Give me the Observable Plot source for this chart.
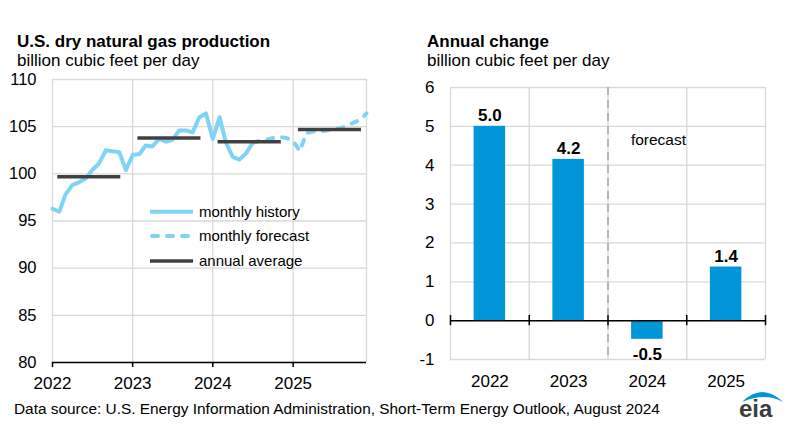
<!DOCTYPE html>
<html>
<head>
<meta charset="utf-8">
<script src="https://cdn.jsdelivr.net/npm/d3@7"></script>
<script src="https://cdn.jsdelivr.net/npm/@observablehq/plot@0.6"></script>
<style>
  html, body { margin: 0; padding: 0; background: #fff; }
  #wrap { position: relative; width: 793px; height: 437px; overflow: hidden; font-family: "Liberation Sans", Arial, sans-serif; }
  #left, #right, #overlay { position: absolute; top: 0; }
  #left { left: 0; }
  #right { left: 400px; }
  #overlay { left: 0; pointer-events: none; }
</style>
</head>
<body>
<div id="wrap">
  <div id="left"></div>
  <div id="right"></div>
  <svg id="overlay" width="793" height="437"></svg>
</div>
<script>
// ---------- data ----------
const years = [2022, 2023, 2024, 2025];
// monthly history Jan 2022 - Jul 2024 (Bcf/d)
const monthlyHistory = [
  96.3, 96.0, 97.8, 98.8, 99.1, 99.5, 100.4, 101.1, 102.5, 102.4, 102.3, 100.4,
  102.0, 102.1, 103.0, 102.9, 103.7, 103.4, 103.6, 104.6, 104.6, 104.4, 106.0, 106.4,
  103.7, 106.0, 103.3, 101.8, 101.5, 102.2, 103.3
];
// monthly forecast Jul 2024 - Dec 2025
const monthlyForecast = [
  103.3, 103.5, 103.6, 103.8, 103.9, 103.8,
  103.5, 102.4, 104.3, 104.5, 104.5, 104.6, 104.7, 104.8, 105.1, 105.4, 105.7, 106.4
];
const annualAverage = [99.7, 103.8, 103.4, 104.7];
const annualChange = [5.0, 4.15, -0.48, 1.38];
const changeLabels = ["5.0", "4.2", "-0.5", "1.4"];
const leftTicks = [80, 85, 90, 95, 100, 105, 110];
const rightTicks = [-1, 0, 1, 2, 3, 4, 5, 6];
const legendLabels = ["monthly history", "monthly forecast", "annual average"];

// ---------- derived tables ----------
const start = new Date(2022, 0, 1);
const monthAt = i => new Date(2022, i, 1);
const hist = monthlyHistory.map((v, i) => ({date: monthAt(i), value: v}));
const fcOffset = monthlyHistory.length - 1;
const fc = monthlyForecast.map((v, i) => ({date: monthAt(fcOffset + i), value: v}));
const avg = years.map((y, i) => ({year: y, value: annualAverage[i]}));
const chg = years.map((y, i) => ({year: y, value: annualChange[i], label: changeLabels[i]}));
const yearDates = years.map(y => new Date(y, 0, 1));
const endDate = monthAt(monthlyHistory.length - 1 + monthlyForecast.length - 1);

const FONT = "Liberation Sans, Arial, sans-serif";
const GRID = "#d9d9d9";
const LIGHT = "#7fd3f5";
const DARK = "#404040";
const BAR = "#0096d7";
const DASH = "6,9";

// ---------- left chart ----------
const left = Plot.plot({
  width: 400, height: 400,
  marginLeft: 52, marginRight: 34, marginTop: 79, marginBottom: 38,
  style: {background: "transparent", fontFamily: FONT, fontSize: "17px", color: "#000", overflow: "visible"},
  x: {type: "time", domain: [start, endDate]},
  y: {domain: [80, 110]},
  marks: [
    Plot.gridY(leftTicks, {stroke: GRID, strokeOpacity: 1, strokeWidth: 1.3}),
    Plot.gridX([...yearDates, endDate], {stroke: GRID, strokeOpacity: 1, strokeWidth: 1.3}),
    Plot.ruleY([80], {stroke: "#000", strokeWidth: 1.5}),
    Plot.axisY({ticks: leftTicks, tickSize: 0, tickPadding: 16, label: null, fontSize: 16.5}),
    Plot.axisX({ticks: yearDates, tickSize: 5, tickPadding: 9, tickFormat: d3.timeFormat("%Y"), label: null, stroke: "#000", strokeWidth: 1.5, fontSize: 17}),
    Plot.line(hist, {x: "date", y: "value", stroke: LIGHT, strokeWidth: 4, curve: "linear"}),
    Plot.line(fc, {x: "date", y: "value", stroke: LIGHT, strokeWidth: 4, strokeDasharray: DASH, strokeLinecap: "round"}),
    Plot.ruleY(avg, {y: "value", x1: d => new Date(d.year, 0, 25), x2: d => new Date(d.year, 10, 8), stroke: DARK, strokeWidth: 3.5})
  ]
});
document.getElementById("left").appendChild(left);

// ---------- right chart ----------
const bounds = [2021.5, 2022.5, 2023.5, 2024.5, 2025.5];
const right = Plot.plot({
  width: 393, height: 400,
  marginLeft: 50, marginRight: 28, marginTop: 87, marginBottom: 41,
  style: {background: "transparent", fontFamily: FONT, fontSize: "17px", color: "#000", overflow: "visible"},
  x: {domain: [2021.5, 2025.5]},
  y: {domain: [-1, 6]},
  marks: [
    Plot.gridY(rightTicks, {stroke: GRID, strokeOpacity: 1, strokeWidth: 1.3}),
    Plot.gridX(bounds, {stroke: GRID, strokeOpacity: 1, strokeWidth: 1.3}),
    Plot.ruleX([2023.5], {stroke: "#a6a6a6", strokeWidth: 1.5, strokeDasharray: "8,5"}),
    Plot.rectY(chg, {x1: d => d.year - 0.2, x2: d => d.year + 0.2, y1: 0, y2: "value", fill: BAR}),
    Plot.ruleY([0], {stroke: "#000", strokeWidth: 1.5}),
    Plot.ruleX(bounds, {y1: -0.13, y2: 0.13, stroke: "#000", strokeWidth: 1.5}),
    Plot.text(chg.filter(d => d.value >= 0), {x: "year", y: "value", text: "label", lineAnchor: "bottom", dy: -5, fontWeight: "bold", fontSize: 17, fill: "#000"}),
    Plot.text(chg.filter(d => d.value < 0), {x: "year", y: "value", text: "label", lineAnchor: "top", dy: 9, fontWeight: "bold", fontSize: 17, fill: "#000"}),
    Plot.text(["forecast"], {x: () => 2024, y: () => 4.64, text: d => d, textAnchor: "start", dx: -16.5, fontSize: 15.5, fill: "#000"}),
    Plot.axisY({ticks: rightTicks, tickSize: 0, tickPadding: 16, tickFormat: d => String(d), label: null, fontSize: 17}),
    Plot.axisX({ticks: years, tickSize: 0, tickPadding: 15, tickFormat: d => String(d), label: null, fontSize: 17})
  ]
});
document.getElementById("right").appendChild(right);

// ---------- titles, legend, footer, logo ----------
const ov = d3.select("#overlay").style("font-family", FONT);
const t = (x, y, s, size, weight) => ov.append("text").attr("x", x).attr("y", y).attr("font-size", size).attr("font-weight", weight || "normal").attr("fill", "#000").text(s);
t(17, 47, "U.S. dry natural gas production", 17, "bold");
t(17, 66, "billion cubic feet per day", 17);
t(427, 47, "Annual change", 17, "bold");
t(427, 66, "billion cubic feet per day", 17);

const legY = [211.7, 236, 261];
const legStyles = [
  {stroke: LIGHT, w: 4, dash: null},
  {stroke: LIGHT, w: 4, dash: DASH},
  {stroke: DARK, w: 3.5, dash: null}
];
legendLabels.forEach((lab, i) => {
  const ln = ov.append("line").attr("x1", i === 1 ? 152 : 150).attr("x2", i === 1 ? 191 : 193).attr("y1", legY[i]).attr("y2", legY[i])
    .attr("stroke", legStyles[i].stroke).attr("stroke-width", legStyles[i].w);
  if (legStyles[i].dash) ln.attr("stroke-dasharray", legStyles[i].dash).attr("stroke-linecap", "round");
  ov.append("text").attr("x", 199).attr("y", legY[i]).attr("dy", "0.35em").attr("font-size", 15).attr("fill", "#000").text(lab);
});

t(14, 414, "Data source: U.S. Energy Information Administration, Short-Term Energy Outlook, August 2024", 15.4);

// eia logo
ov.append("path").attr("d", "M742,402 Q762,382 783,402 Q765,392 742,402 Z").attr("fill", BAR);
ov.append("text").attr("x", 739).attr("y", 417).attr("font-size", 24).attr("font-weight", "bold").attr("fill", "#3d3d3d").text("eia");
</script>
</body>
</html>
